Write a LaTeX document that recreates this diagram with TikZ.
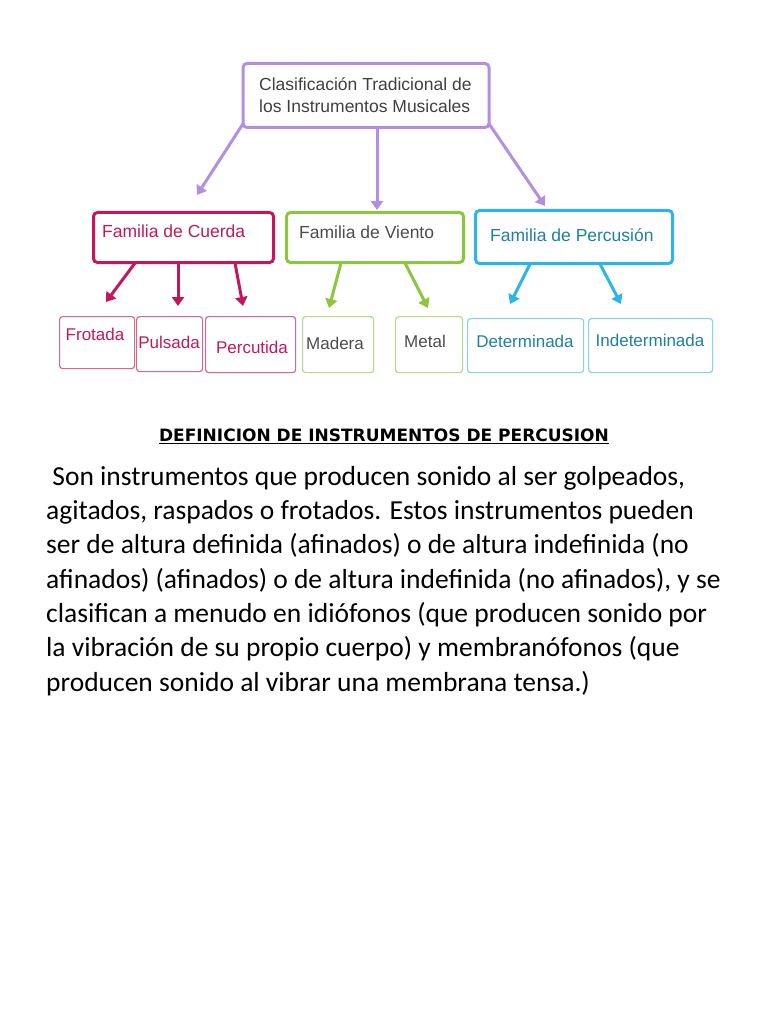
\documentclass[tikz,border=0pt]{standalone}
\usepackage{fontspec}
\setmainfont{Carlito}
\newfontfamily\arialf{Liberation Sans}
\newfontfamily\dejav{DejaVu Sans}
\usetikzlibrary{arrows.meta}
\definecolor{cpurp}{HTML}{B48EE0}
\definecolor{cmag}{HTML}{C2185B}
\definecolor{cmagl}{HTML}{D06A92}
\definecolor{cgrn}{HTML}{8CC63F}
\definecolor{cgrnl}{HTML}{B4D98A}
\definecolor{ccyan}{HTML}{2BB5E8}
\definecolor{ccyanl}{HTML}{86D2F0}
\begin{document}
\begin{tikzpicture}[x=1pt,y=-1pt,
  bx/.style={draw,line width=3pt,rounded corners=4pt,inner sep=0pt},
  lf/.style={draw,line width=1.2pt,rounded corners=3pt,inner sep=0pt},
  tx/.style={font=\arialf\fontsize{17.5}{20}\selectfont,inner sep=0pt},
  lt/.style={font=\arialf\fontsize{17}{19}\selectfont,inner sep=0pt},
  ar/.style={line width=3pt,-{Triangle[width=12pt,length=9pt]}}]
\useasboundingbox (0,0) rectangle (768,1024);
\node[bx,draw=cpurp,minimum width=246pt,minimum height=64pt] (t) at (366,95.5) {};
\node[tx,align=left,anchor=west,text=black!75,font=\arialf\fontsize{17.5}{22}\selectfont] at (259,95) {Clasificación Tradicional de\\los Instrumentos Musicales};
\node[bx,draw=cmag,minimum width=180pt,minimum height=50pt,anchor=north west] (c) at (92,211) {};
\node[tx,text=cmag,anchor=west] at (102,231) {Familia de Cuerda};
\node[bx,draw=cgrn,minimum width=177pt,minimum height=50pt,anchor=north west] (v) at (285,211) {};
\node[tx,text=black!70,anchor=west] at (299,232) {Familia de Viento};
\node[bx,draw=ccyan,minimum width=197pt,minimum height=53pt,anchor=north west] (p) at (474,209) {};
\node[tx,text=ccyan!70!black,anchor=west] at (490,235) {Familia de Percusión};
\node[lf,draw=cmagl,minimum width=75pt,minimum height=52pt,anchor=north west] (f1) at (59,316) {};
\node[lt,text=cmag] at (95,334) {Frotada};
\node[lf,draw=cmagl,minimum width=66pt,minimum height=55pt,anchor=north west] (f2) at (136,316) {};
\node[lt,text=cmag] at (169,342) {Pulsada};
\node[lf,draw=cmagl,minimum width=90pt,minimum height=56pt,anchor=north west] (f3) at (205,316) {};
\node[lt,text=cmag] at (252,347) {Percutida};
\node[lf,draw=cgrnl,minimum width=71pt,minimum height=56pt,anchor=north west] (f4) at (302,316) {};
\node[lt,text=black!70] at (335,343) {Madera};
\node[lf,draw=cgrnl,minimum width=67pt,minimum height=56pt,anchor=north west] (f5) at (395,316) {};
\node[lt,text=black!70] at (425,341) {Metal};
\node[lf,draw=ccyanl,minimum width=116pt,minimum height=54pt,anchor=north west] (f6) at (467,318) {};
\node[lt,text=ccyan!70!black] at (525,341) {Determinada};
\node[lf,draw=ccyanl,minimum width=124pt,minimum height=54pt,anchor=north west] (f7) at (588,318) {};
\node[lt,text=ccyan!70!black] at (650,340) {Indeterminada};
\coordinate (a1) at (197,195); \coordinate (a2) at (377,210); \coordinate (a3) at (545,206);
\draw[ar,cpurp] (t.south west)++(2,-6) -- (a1);
\draw[ar,cpurp] (377,128) -- (a2);
\draw[ar,cpurp] (t.south east)++(-2,-6) -- (a3);
\draw[ar,cmag] (135,263) -- (106,302);
\draw[ar,cmag] (178,263) -- (178,306);
\draw[ar,cmag] (235,263) -- (243,306);
\draw[ar,cgrn] (341,263) -- (329,308);
\draw[ar,cgrn] (405,263) -- (428,308);
\draw[ar,ccyan] (530,264) -- (510,304);
\draw[ar,ccyan] (600,264) -- (621,304);
\node[font=\dejav\bfseries\fontsize{17}{19}\selectfont] (h) at (384,436) {\underline{DEFINICION DE INSTRUMENTOS DE PERCUSION}};
\node[anchor=north west,align=left,inner sep=0pt,font=\fontsize{27.5}{34.3}\selectfont] (b) at (46,466) {\ Son instrumentos que producen sonido al ser golpeados,\\agitados, raspados o frotados. Estos instrumentos pueden\\ser de altura definida (afinados) o de altura indefinida (no\\afinados) (afinados) o de altura indefinida (no afinados), y se\\clasifican a menudo en idiófonos (que producen sonido por\\la vibración de su propio cuerpo) y membranófonos (que\\producen sonido al vibrar una membrana tensa.)};
\end{tikzpicture}
\end{document}
